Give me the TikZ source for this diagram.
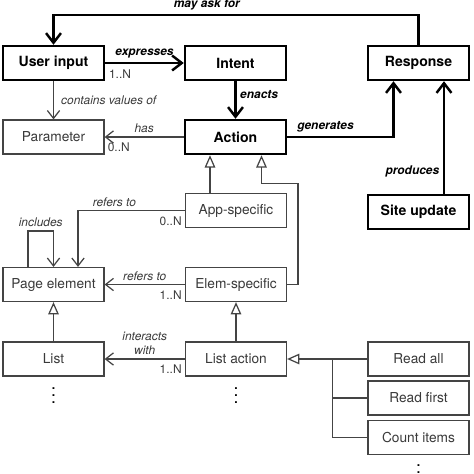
\documentclass[tikz,border=0pt]{standalone}
\usepackage{fontspec}
\setmainfont{TeX Gyre Heros}
\usetikzlibrary{arrows.meta, calc}
\definecolor{umlLine}{HTML}{444444}
\definecolor{umlText}{HTML}{3A3A3A}
\tikzset{
  classfig/.style={
    x=0.02cm, y=-0.02cm,
    every node/.append style={font=\fontsize{7.8}{9}\selectfont},
  },
  classbox/.style={
    draw=umlLine, line width=0.7pt, text=umlText, fill=white,
    minimum width=2.02cm, minimum height=0.68cm, inner sep=1pt,
  },
  corebox/.style={classbox, draw=black, text=black, line width=1.4pt,
    font=\fontsize{8}{9.6}\selectfont\bfseries},
  assoc/.style={draw=umlLine, line width=0.7pt,
    -{Straight Barb[length=4.5pt, width=7pt]}},
  coreassoc/.style={draw=black, line width=1.4pt,
    -{Straight Barb[length=5.5pt, width=8.5pt]}},
  inherit/.style={draw=umlLine, line width=0.7pt,
    -{Triangle[open, length=7pt, width=6pt, fill=white]}},
  branch/.style={draw=umlLine, line width=0.7pt},
  % Rollen-Beschriftungen der Assoziationen
  rolelabel/.style={font=\fontsize{6.8}{8}\selectfont\itshape, text=umlText, inner sep=2pt},
  corerole/.style={font=\fontsize{6.8}{8}\selectfont\bfseries\itshape, text=black, inner sep=2pt},
  multlabel/.style={font=\fontsize{6.8}{8}\selectfont, text=umlText, inner sep=1.5pt, yshift=-1.5pt},
  moredots/.style={font=\fontsize{10}{12}\selectfont, text=black, inner sep=0pt},
}
\begin{document}
\begin{tikzpicture}[classfig]
  \useasboundingbox (0,0) rectangle (474,474);
  \node[corebox] (UserInput) at (53.5,63) {User input};
  \node[corebox] (Intent) at (235.5,63) {Intent};
  \node[corebox] (Response) at (418.5,63) {Response};
  \node[classbox] (Parameter) at (53.5,137) {Parameter};
  \node[corebox] (Action) at (235.5,137) {Action};
  \node[corebox] (SiteUpdate) at (418.5,212) {Site update};
  \node[classbox] (AppSpecific) at (236,210.5) {App-specific};
  \node[classbox] (PageElement) at (53.5,284.5) {Page element};
  \node[classbox] (ElemSpecific) at (236,284.5) {Elem-specific};
  \node[classbox] (List) at (53.5,359) {List};
  \node[classbox] (ListAction) at (236,359) {List action};
  \node[classbox] (ReadAll) at (418.5,359) {Read all};
  \node[classbox] (ReadFirst) at (418.5,398) {Read first};
  \node[classbox] (CountItems) at (418.5,437.5) {Count items};
  \node[moredots] (ListMore) at (53.5,390) {$\vdots$};
  \node[moredots] (ListActionMore) at (236,390) {$\vdots$};
  \node[moredots] (CountMore) at (418.5,467) {$\vdots$};
  \coordinate (Fork) at ($(ReadAll.west)+(-35,0)$);
  \draw[coreassoc] (Response.north) -- ++(0,-30)
    -| node[corerole, pos=0.29, above] {may ask for} (UserInput.north);
  \draw[coreassoc] (UserInput) -- node[corerole, above] {expresses}
    node[multlabel, pos=0, below right] {1..N} (Intent);
  \draw[coreassoc] (Intent) -- node[corerole, pos=0.35, right] {enacts} (Action);
  \draw[assoc] (UserInput) -- node[rolelabel, right=2pt] {contains values of} (Parameter);
  \draw[assoc] (Action) -- node[rolelabel, above] {has}
    node[multlabel, pos=1, below right] {0..N} (Parameter);
  \draw[coreassoc] (Action.east) -| node[corerole, pos=0.18, above] {generates}
    ($(Response.south)+(-25,0)$);
  \draw[coreassoc] ($(SiteUpdate.north)+(25.5,0)$) -- node[corerole, pos=0.2, left] {produces}
    ($(Response.south)+(25.5,0)$);
  \draw[inherit] ($(AppSpecific.north)+(-26,0)$) -- ($(Action.south)+(-25.5,0)$);
  \draw[inherit] (ElemSpecific.east) -- ++(11,0) |- ($(Action.south)+(26,28)$)
    -- ($(Action.south)+(26,0)$);
  \draw[assoc] (AppSpecific.west) -| node[rolelabel, pos=0.33, above] {refers to}
    node[multlabel, pos=0, below left] {0..N} ($(PageElement.north)+(24.5,0)$);
  \draw[assoc] ($(PageElement.north)+(-25.5,0)$) -- ++(0,-36)
    -| node[rolelabel, pos=0.25, above] {includes} (PageElement.north);
  \draw[assoc] (ElemSpecific) -- node[rolelabel, above] {refers to}
    node[multlabel, pos=0, below left] {1..N} (PageElement);
  \draw[inherit] (List) -- (PageElement);
  \draw[inherit] (ListAction) -- (ElemSpecific);
  \draw[assoc] (ListAction) -- node[rolelabel, above, align=center] {interacts\\with}
    node[multlabel, pos=0, below left] {1..N} (List);
  \draw[inherit] (ReadAll) -- (ListAction);
  \draw[branch] (ReadFirst.west) -| (Fork);
  \draw[branch] (CountItems.west) -| (Fork);
\end{tikzpicture}
\end{document}
